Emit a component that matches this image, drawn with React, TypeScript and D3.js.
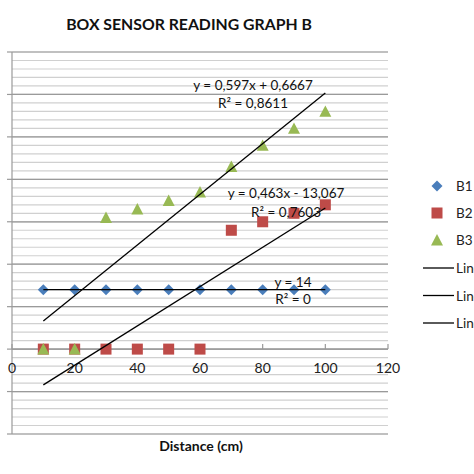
import React from "react";
import * as d3 from "d3";

const distances = [10, 20, 30, 40, 50, 60, 70, 80, 90, 100];
const b1 = [14, 14, 14, 14, 14, 14, 14, 14, 14, 14];
const b2 = [0, 0, 0, 0, 0, 0, 28, 30, 32, 34];
const b3 = [0, 0, 31, 33, 35, 37, 43, 48, 52, 56];
const xTicks = [0, 20, 40, 60, 80, 100, 120];
const seriesNames = ["B1", "B2", "B3"];
const trendNames = ["Linear (B1)", "Linear (B2)", "Linear (B3)"];
const eqLabels = [
  ["y = 14", "R² = 0"],
  ["y = 0,463x - 13,067", "R² = 0,7603"],
  ["y = 0,597x + 0,6667", "R² = 0,8611"],
];

const W = 474;
const H = 474;
const colors = ["#4A7EBB", "#BE4B48", "#98B954"];
const FONT = "Lato, 'Open Sans', sans-serif";

function fit(xs: number[], ys: number[]) {
  const mx = d3.mean(xs)!;
  const my = d3.mean(ys)!;
  let sxy = 0, sxx = 0;
  xs.forEach((x, i) => {
    sxy += (x - mx) * (ys[i] - my);
    sxx += (x - mx) * (x - mx);
  });
  const m = sxy / sxx;
  return { m, b: my - m * mx };
}

function Marker({ kind, cx, cy }: { kind: number; cx: number; cy: number }) {
  if (kind === 0) {
    const s = 5.5;
    return (
      <path
        d={`M${cx},${cy - s}L${cx + s},${cy}L${cx},${cy + s}L${cx - s},${cy}Z`}
        fill={colors[0]}
      />
    );
  }
  if (kind === 1) {
    const s = 5.5;
    return <rect x={cx - s} y={cy - s} width={2 * s} height={2 * s} fill={colors[1]} />;
  }
  const s = 6;
  return (
    <path
      d={`M${cx},${cy - s}L${cx + s},${cy + s * 0.9}L${cx - s},${cy + s * 0.9}Z`}
      fill={colors[2]}
    />
  );
}

export default function App() {
  const x = d3.scaleLinear().domain([0, 120]).range([12, 388]);
  const y = d3.scaleLinear().domain([-20, 70]).range([434, 52]);
  const minor = d3.range(-20, 70.001, 2);
  const major = d3.range(-20, 70.001, 10);
  const all = [b1, b2, b3];
  const fits = all.map((s) => fit(distances, s));
  const x0 = d3.min(distances)!;
  const x1 = d3.max(distances)!;
  const line = d3
    .line<number[]>()
    .x((d) => x(d[0]))
    .y((d) => y(d[1]));

  const eqPos = [
    { x: 293, y: 287, dy: 17 },
    { x: 286, y: 198, dy: 19 },
    { x: 253, y: 90, dy: 18 },
  ];

  return (
    <svg
      width={W}
      height={H}
      style={{ position: "absolute", left: 0, top: 0, background: "#fff" }}
      fontFamily={FONT}
    >
      <rect width={W} height={H} fill="#fff" />
      <text x={189} y={30} textAnchor="middle" fontWeight="bold" fontSize={15.8} fill="#111">
        BOX SENSOR READING GRAPH B
      </text>
      {minor.map((v) => (
        <line
          key={"mi" + v}
          x1={x(0)}
          x2={x(120)}
          y1={y(v)}
          y2={y(v)}
          stroke="#d0d0d0"
          strokeWidth={1.2}
        />
      ))}
      {major.map((v) => (
        <g key={"ma" + v}>
          <line x1={x(0)} x2={x(120)} y1={y(v)} y2={y(v)} stroke="#9a9a9a" strokeWidth={1.2} />
          <line x1={x(0) - 5} x2={x(0)} y1={y(v)} y2={y(v)} stroke="#9a9a9a" strokeWidth={1.2} />
        </g>
      ))}
      <line x1={x(0)} x2={x(0)} y1={y(-20)} y2={y(70)} stroke="#9a9a9a" strokeWidth={1.2} />
      <line x1={x(0)} x2={x(120)} y1={y(0)} y2={y(0)} stroke="#9a9a9a" strokeWidth={1.2} />
      {xTicks.map((t) => (
        <g key={"xt" + t}>
          <line x1={x(t)} x2={x(t)} y1={y(0)} y2={y(0) - 5} stroke="#9a9a9a" strokeWidth={1.2} />
          <text x={x(t)} y={y(0) + 24} textAnchor="middle" fontSize={14} fill="#222">
            {t}
          </text>
        </g>
      ))}
      {all.map((s, k) =>
        s.map((v, i) => <Marker key={k + "-" + i} kind={k} cx={x(distances[i])} cy={y(v)} />)
      )}
      {fits.map((f, k) => (
        <path
          key={"tr" + k}
          d={line([
            [x0, f.m * x0 + f.b],
            [x1, f.m * x1 + f.b],
          ])!}
          stroke="#000"
          strokeWidth={1.3}
          fill="none"
        />
      ))}
      {eqLabels.map((lab, k) => (
        <g key={"eq" + k}>
          <text x={eqPos[k].x} y={eqPos[k].y} textAnchor="middle" fontSize={13.5} fill="#111">
            {lab[0]}
          </text>
          <text x={eqPos[k].x} y={eqPos[k].y + eqPos[k].dy} textAnchor="middle" fontSize={13.5} fill="#111">
            {lab[1]}
          </text>
        </g>
      ))}
      <text x={201} y={451} textAnchor="middle" fontWeight="bold" fontSize={14} fill="#111">
        Distance (cm)
      </text>
      {seriesNames.map((n, k) => (
        <g key={"lg" + k}>
          <Marker kind={k} cx={437} cy={186 + k * 27} />
          <text x={456} y={186 + k * 27 + 5} fontSize={13.5} fill="#222">
            {n}
          </text>
        </g>
      ))}
      {trendNames.map((n, k) => (
        <g key={"lt" + k}>
          <line x1={423} x2={454} y1={268 + k * 27.5} y2={268 + k * 27.5} stroke="#000" strokeWidth={1.3} />
          <text x={456} y={268 + k * 27.5 + 5} fontSize={13.5} fill="#222">
            {n}
          </text>
        </g>
      ))}
    </svg>
  );
}
